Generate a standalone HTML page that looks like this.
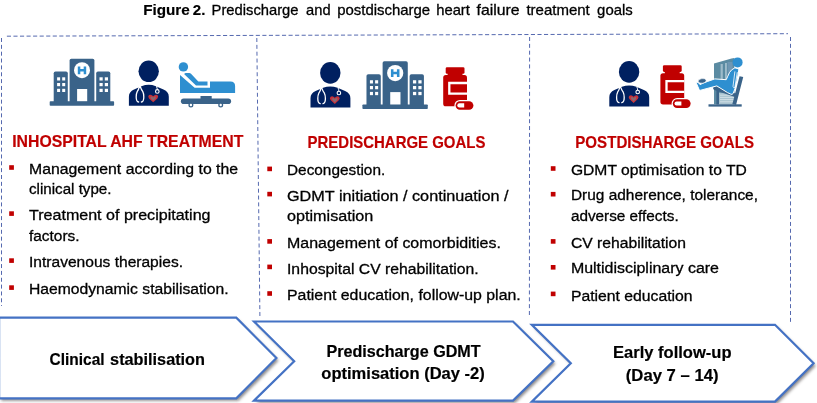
<!DOCTYPE html>
<html><head><meta charset="utf-8"><title>Figure 2</title>
<style>
html,body{margin:0;padding:0;background:#fff;}
body{width:817px;height:403px;overflow:hidden;position:relative;font-family:"Liberation Sans",sans-serif;}
svg{position:absolute;left:0;top:0;will-change:transform;}
text{font-family:"Liberation Sans",sans-serif;}
</style></head><body>
<svg width="817" height="403" viewBox="0 0 817 403">
<defs>
<filter id="sh" x="-10%" y="-20%" width="120%" height="150%"><feGaussianBlur stdDeviation="1.7"/></filter>
<g id="hosp">
<rect x="49.7" y="101.2" width="64.4" height="4.5" rx="0.8" fill="#3A6389"/>
<path d="M69.6,102 V60.4 Q69.6,58.7 71.3,58.7 H92.7 Q94.4,58.7 94.4,60.4 V102 Z" fill="#3A6389"/>
<path d="M53.7,102 V73.2 Q53.7,71.4 55.5,71.4 H66 Q67.8,71.4 67.8,73.2 V102 Z" fill="#3A6389"/>
<path d="M96.2,102 V73.2 Q96.2,71.4 98,71.4 H108.5 Q110.3,71.4 110.3,73.2 V102 Z" fill="#3A6389"/>
<circle cx="82" cy="70.2" r="8" fill="#fff"/>
<path d="M77.8,66.4 h2.5 v2.5 h3.4 v-2.5 h2.5 v7.8 h-2.5 v-2.7 h-3.4 v2.7 h-2.5 Z" fill="#2E8FD0"/>
<rect x="77.1" y="89" width="10.1" height="12.2" fill="#fff"/>
<g fill="#fff">
<rect x="57.1" y="77.3" width="3" height="3.2"/><rect x="62.2" y="77.3" width="3" height="3.2"/>
<rect x="57.1" y="83" width="3" height="3.2"/><rect x="62.2" y="83" width="3" height="3.2"/>
<rect x="57.1" y="88.8" width="3" height="3.2"/><rect x="62.2" y="88.8" width="3" height="3.2"/>
<rect x="99.5" y="77.3" width="3.2" height="3.2"/><rect x="104.8" y="77.3" width="3.2" height="3.2"/>
<rect x="99.5" y="83" width="3.2" height="3.2"/><rect x="104.8" y="83" width="3.2" height="3.2"/>
<rect x="99.5" y="88.8" width="3.2" height="3.2"/><rect x="104.8" y="88.8" width="3.2" height="3.2"/>
</g>
</g>
<g id="doc">
<ellipse cx="148.7" cy="71.1" rx="10.2" ry="10.8" fill="#002060"/>
<path d="M128.9,105.6 V96.5 Q128.9,91.5 134,89.3 L141.5,86 Q148.7,83.2 155.9,86 L163.5,89.3 Q168.8,91.5 168.8,96.5 V105.6 Z" fill="#002060"/>
<path d="M139.4,86.3 Q138.6,89.6 137.2,91.4 Q136.2,93.2 136.2,96.8 Q136.2,101.6 138.6,101.8 M140.2,86.3 Q141.4,89.6 142.8,91.4 Q143.8,93.2 143.8,96.8 Q143.8,101.6 141.4,101.8" fill="none" stroke="#fff" stroke-width="1.3" stroke-linecap="round"/>
<path d="M156.4,86 Q157.3,88 157.3,89.4" fill="none" stroke="#fff" stroke-width="1"/>
<circle cx="157.3" cy="91.2" r="1.8" fill="none" stroke="#fff" stroke-width="1.1"/>
<path d="M153.2,102.1 L149,98.3 Q147.5,96.3 149,94.9 Q151.2,93.7 153.2,96 Q155.2,93.7 157.4,94.9 Q158.9,96.3 157.4,98.3 Z" fill="#C8323A"/>
<path d="M153.2,100.6 L150.8,98.2 Q150.1,97 151,96.3 Q152.2,95.9 153.2,97.5 Q154.2,95.9 155.4,96.3 Q156.3,97 155.6,98.2 Z" fill="#8A6A72"/>
</g>
<g id="bed">
<circle cx="183.4" cy="66.9" r="4.7" fill="#2E8FD0"/>
<path d="M180,75.1 L194.6,87.8 H210 V81.4 H230.5 Q235.1,81.4 235.1,86 V93 H180 Z" fill="#2E8FD0"/>
<path d="M184.3,74.2 Q184.3,72.9 186,72.9 H189.2 Q190.3,72.9 191,73.8 L198.3,81.4 H207.5 V85.5 H196 Z" fill="#2E8FD0"/>
<rect x="180.9" y="98.5" width="50.2" height="5.6" rx="2.8" fill="#3A6389"/>
<rect x="200.5" y="96" width="11.2" height="3" fill="#3A6389"/>
<circle cx="190.9" cy="105" r="2.5" fill="#3A6389"/><circle cx="190.9" cy="105" r="1.2" fill="#fff"/>
<circle cx="220.7" cy="105" r="2.5" fill="#3A6389"/><circle cx="220.7" cy="105" r="1.2" fill="#fff"/>
</g>
<g id="pill">
<rect x="445.7" y="67.2" width="18.8" height="6.6" rx="1.3" fill="#C00000"/>
<rect x="447.6" y="73" width="14.9" height="3.4" fill="#C00000"/>
<rect x="443.2" y="75.1" width="23.8" height="31.2" rx="2.6" fill="#C00000"/>
<path d="M467.2,83 H449.3 V93.7 H467.2" fill="none" stroke="#fff" stroke-width="2.3"/>
<rect x="454.4" y="100" width="20.1" height="10.9" rx="5.45" fill="#fff"/>
<rect x="455.6" y="101.2" width="17.8" height="8.6" rx="4.3" fill="#C00000"/>
<path d="M464.2,103.3 H459.4 A2.1,2.1 0 0 0 459.4,107.5 H464.2 Z" fill="#fff"/>
</g>
<g id="chair">
<path d="M714,63.6 L731.5,58.4 L734.4,58 L734.4,104.3 L714,104.3 Z" fill="#5B8BA2"/>
<rect x="720.6" y="64" width="2.2" height="27" fill="#9DBBCA"/><rect x="725" y="63" width="1.9" height="27" fill="#9DBBCA"/>
<rect x="727.6" y="62" width="5" height="30" fill="#6F97B3"/>
<rect x="718.8" y="92.8" width="15.4" height="11.5" fill="#A9C3CF"/>
<g stroke="#E4EDF1" stroke-width="0.7"><line x1="720" y1="95.2" x2="734" y2="95.2"/><line x1="720" y1="97.4" x2="734" y2="97.4"/><line x1="720" y1="99.6" x2="734" y2="99.6"/><line x1="720" y1="101.8" x2="734" y2="101.8"/></g>
<rect x="716.4" y="89" width="2.6" height="15.5" fill="#3A6389"/>
<rect x="708.5" y="104.3" width="33.2" height="2.3" fill="#3A6389"/>
<path d="M741.4,76.6 L735.3,100.4 L734.2,104.6" stroke="#3A6389" stroke-width="3.8" fill="none"/>
<path d="M714.9,88.2 L735.6,95.4" stroke="#3A6389" stroke-width="3.6" fill="none" stroke-linecap="round"/>
<path d="M738.9,69 L738.2,74.1 L736.9,80.8 L734.9,88.9 L733.1,93.5 Q732.2,94.8 730.9,94.2 L727.5,92.6 L716.8,85.9 L700.7,90.2 Q699.5,90.4 699.1,89.5 L696.4,83.2 Q696.6,82 698,82.2 L700,84.6 L704,82.8 L707.4,81.5 L714.8,78.9 L726.2,79.7 L727.5,76.8 L729.5,72.5 Q731,69.6 734.9,67.8 Z" fill="#2E8FD0" stroke="#fff" stroke-width="1" stroke-linejoin="round"/>
<path d="M734.9,71.4 L733,86.4 Q733.4,88.4 734.9,87.4 L737.3,72.2" stroke="#fff" stroke-width="0.8" fill="none" stroke-linejoin="round"/>
<ellipse cx="702.2" cy="80.9" rx="4" ry="2.3" fill="#3A6389" stroke="#fff" stroke-width="0.6" transform="rotate(-8 702.2 80.9)"/>
<circle cx="737.6" cy="62.4" r="5" fill="#2E8FD0"/>
</g>
</defs>
<g stroke-width="0.9" fill="none" stroke="#4258A6">
<line x1="6.9" y1="36.2" x2="788" y2="33.7" stroke-dasharray="4.1 2.45"/>
<g stroke-dasharray="4 2.85">
<line x1="1.5" y1="38" x2="1.5" y2="306"/>
<line x1="256.8" y1="38" x2="259.9" y2="317"/>
<line x1="529.6" y1="37" x2="529.4" y2="317.6"/>
<line x1="790.5" y1="37" x2="790.5" y2="324"/>
</g></g>
<path d="M-0.9,317.7 L236.3,317.7 L276.4,358 L236.3,398.3 L-0.9,398.3 Z" transform="translate(2.1,2.5)" fill="#4a4444" opacity="0.62" filter="url(#sh)"/>
<path d="M254,321.5 L513,321.5 L553.3,361.2 L513,400.6 L254,400.6 L294.2,361.2 Z" transform="translate(2.1,2.5)" fill="#4a4444" opacity="0.62" filter="url(#sh)"/>
<path d="M531.8,324.8 L775,324.8 L813.6,363.3 L775,401.6 L531.8,401.6 L570.8,363.3 Z" transform="translate(2.1,2.5)" fill="#4a4444" opacity="0.62" filter="url(#sh)"/>
<path d="M-0.9,317.7 L236.3,317.7 L276.4,358 L236.3,398.3 L-0.9,398.3 Z" fill="#fff" stroke="#4472C4" stroke-width="2.2" stroke-linejoin="miter"/>
<path d="M254,321.5 L513,321.5 L553.3,361.2 L513,400.6 L254,400.6 L294.2,361.2 Z" fill="#fff" stroke="#4472C4" stroke-width="2.2" stroke-linejoin="miter"/>
<path d="M531.8,324.8 L775,324.8 L813.6,363.3 L775,401.6 L531.8,401.6 L570.8,363.3 Z" fill="#fff" stroke="#4472C4" stroke-width="2.2" stroke-linejoin="miter"/>
<use href="#hosp" x="0" y="0"/>
<use href="#doc" x="0" y="0.2"/>
<use href="#bed"/>
<use href="#doc" x="181.6" y="1.8"/>
<use href="#hosp" transform="translate(313.2 3) translate(82 82) scale(1.015) translate(-82 -82)"/>
<use href="#pill"/>
<use href="#doc" x="480.4" y="0.8"/>
<use href="#pill" x="217.2" y="-1.9"/>
<use href="#chair"/>
<rect x="9.2" y="165.2" width="4.7" height="4.6" fill="#C00000"/>
<rect x="9.2" y="211.3" width="4.7" height="4.6" fill="#C00000"/>
<rect x="9.2" y="258.3" width="4.7" height="4.6" fill="#C00000"/>
<rect x="9.2" y="285.3" width="4.7" height="4.6" fill="#C00000"/>
<rect x="267.3" y="166.6" width="4.7" height="4.6" fill="#C00000"/>
<rect x="267.3" y="191.8" width="4.7" height="4.6" fill="#C00000"/>
<rect x="267.3" y="239.1" width="4.7" height="4.6" fill="#C00000"/>
<rect x="267.3" y="264.6" width="4.7" height="4.6" fill="#C00000"/>
<rect x="267.3" y="291.2" width="4.7" height="4.6" fill="#C00000"/>
<rect x="550.8" y="166.2" width="4.7" height="4.6" fill="#C00000"/>
<rect x="550.8" y="191.9" width="4.7" height="4.6" fill="#C00000"/>
<rect x="550.8" y="239.1" width="4.7" height="4.6" fill="#C00000"/>
<rect x="550.8" y="265.0" width="4.7" height="4.6" fill="#C00000"/>
<rect x="550.8" y="291.6" width="4.7" height="4.6" fill="#C00000"/>
<text x="143.2" y="15.2" font-size="15" font-weight="bold" fill="#000" stroke="#000" stroke-width="0.18" textLength="46.6" lengthAdjust="spacingAndGlyphs">Figure</text>
<text x="192.8" y="15.2" font-size="15" font-weight="bold" fill="#000" stroke="#000" stroke-width="0.18" textLength="12.5" lengthAdjust="spacingAndGlyphs">2.</text>
<text x="211.6" y="15.2" font-size="15" font-weight="normal" fill="#000" stroke="#000" stroke-width="0.3" textLength="86.9" lengthAdjust="spacingAndGlyphs">Predischarge</text>
<text x="306.1" y="15.2" font-size="15" font-weight="normal" fill="#000" stroke="#000" stroke-width="0.3" textLength="24.5" lengthAdjust="spacingAndGlyphs">and</text>
<text x="337.2" y="15.2" font-size="15" font-weight="normal" fill="#000" stroke="#000" stroke-width="0.3" textLength="93.0" lengthAdjust="spacingAndGlyphs">postdischarge</text>
<text x="436.2" y="15.2" font-size="15" font-weight="normal" fill="#000" stroke="#000" stroke-width="0.3" textLength="33.7" lengthAdjust="spacingAndGlyphs">heart</text>
<text x="476.5" y="15.2" font-size="15" font-weight="normal" fill="#000" stroke="#000" stroke-width="0.3" textLength="43.0" lengthAdjust="spacingAndGlyphs">failure</text>
<text x="526.4" y="15.2" font-size="15" font-weight="normal" fill="#000" stroke="#000" stroke-width="0.3" textLength="63.4" lengthAdjust="spacingAndGlyphs">treatment</text>
<text x="597.1" y="15.2" font-size="15" font-weight="normal" fill="#000" stroke="#000" stroke-width="0.3" textLength="35.7" lengthAdjust="spacingAndGlyphs">goals</text>
<text x="12.2" y="147.3" font-size="16.9" font-weight="bold" fill="#C00000" stroke="#C00000" stroke-width="0.18" textLength="231.1" lengthAdjust="spacingAndGlyphs">INHOSPITAL AHF TREATMENT</text>
<text x="307.6" y="147.9" font-size="16.9" font-weight="bold" fill="#C00000" stroke="#C00000" stroke-width="0.18" textLength="177.8" lengthAdjust="spacingAndGlyphs">PREDISCHARGE GOALS</text>
<text x="575.3" y="148.3" font-size="16.9" font-weight="bold" fill="#C00000" stroke="#C00000" stroke-width="0.18" textLength="178.7" lengthAdjust="spacingAndGlyphs">POSTDISHARGE GOALS</text>
<text x="29.0" y="174.4" font-size="15.1" font-weight="normal" fill="#000" stroke="#000" stroke-width="0.3" textLength="209.1" lengthAdjust="spacingAndGlyphs">Management according to the</text>
<text x="29.0" y="194.0" font-size="15.1" font-weight="normal" fill="#000" stroke="#000" stroke-width="0.3" textLength="82.5" lengthAdjust="spacingAndGlyphs">clinical type.</text>
<text x="29.0" y="219.6" font-size="15.1" font-weight="normal" fill="#000" stroke="#000" stroke-width="0.3" textLength="181.5" lengthAdjust="spacingAndGlyphs">Treatment of precipitating</text>
<text x="29.0" y="241.4" font-size="15.1" font-weight="normal" fill="#000" stroke="#000" stroke-width="0.3" textLength="50.6" lengthAdjust="spacingAndGlyphs">factors.</text>
<text x="29.0" y="266.6" font-size="15.1" font-weight="normal" fill="#000" stroke="#000" stroke-width="0.3" textLength="154.0" lengthAdjust="spacingAndGlyphs">Intravenous therapies.</text>
<text x="29.0" y="293.9" font-size="15.1" font-weight="normal" fill="#000" stroke="#000" stroke-width="0.3" textLength="199.6" lengthAdjust="spacingAndGlyphs">Haemodynamic stabilisation.</text>
<text x="287.0" y="174.7" font-size="15.1" font-weight="normal" fill="#000" stroke="#000" stroke-width="0.3" textLength="98.2" lengthAdjust="spacingAndGlyphs">Decongestion.</text>
<text x="287.0" y="200.6" font-size="15.1" font-weight="normal" fill="#000" stroke="#000" stroke-width="0.3" textLength="221.5" lengthAdjust="spacingAndGlyphs">GDMT initiation / continuation /</text>
<text x="287.0" y="221.3" font-size="15.1" font-weight="normal" fill="#000" stroke="#000" stroke-width="0.3" textLength="86.3" lengthAdjust="spacingAndGlyphs">optimisation</text>
<text x="287.0" y="248.0" font-size="15.1" font-weight="normal" fill="#000" stroke="#000" stroke-width="0.3" textLength="213.9" lengthAdjust="spacingAndGlyphs">Management of comorbidities.</text>
<text x="287.0" y="273.5" font-size="15.1" font-weight="normal" fill="#000" stroke="#000" stroke-width="0.3" textLength="191.7" lengthAdjust="spacingAndGlyphs">Inhospital CV rehabilitation.</text>
<text x="287.0" y="300.1" font-size="15.1" font-weight="normal" fill="#000" stroke="#000" stroke-width="0.3" textLength="233.7" lengthAdjust="spacingAndGlyphs">Patient education, follow-up plan.</text>
<text x="570.9" y="174.7" font-size="15.1" font-weight="normal" fill="#000" stroke="#000" stroke-width="0.3" textLength="175.9" lengthAdjust="spacingAndGlyphs">GDMT optimisation to TD</text>
<text x="570.9" y="200.1" font-size="15.1" font-weight="normal" fill="#000" stroke="#000" stroke-width="0.3" textLength="187.1" lengthAdjust="spacingAndGlyphs">Drug adherence, tolerance,</text>
<text x="570.9" y="221.3" font-size="15.1" font-weight="normal" fill="#000" stroke="#000" stroke-width="0.3" textLength="107.8" lengthAdjust="spacingAndGlyphs">adverse effects.</text>
<text x="570.9" y="248.0" font-size="15.1" font-weight="normal" fill="#000" stroke="#000" stroke-width="0.3" textLength="115.1" lengthAdjust="spacingAndGlyphs">CV rehabilitation</text>
<text x="570.9" y="273.4" font-size="15.1" font-weight="normal" fill="#000" stroke="#000" stroke-width="0.3" textLength="148.1" lengthAdjust="spacingAndGlyphs">Multidisciplinary care</text>
<text x="570.9" y="300.5" font-size="15.1" font-weight="normal" fill="#000" stroke="#000" stroke-width="0.3" textLength="121.7" lengthAdjust="spacingAndGlyphs">Patient education</text>
<text x="49.6" y="365.1" font-size="15.7" font-weight="bold" fill="#000" stroke="#000" stroke-width="0.18" textLength="55.0" lengthAdjust="spacingAndGlyphs">Clinical</text>
<text x="110.1" y="365.1" font-size="15.7" font-weight="bold" fill="#000" stroke="#000" stroke-width="0.18" textLength="94.9" lengthAdjust="spacingAndGlyphs">stabilisation</text>
<text x="326.4" y="357.2" font-size="15.7" font-weight="bold" fill="#000" stroke="#000" stroke-width="0.18" textLength="154.3" lengthAdjust="spacingAndGlyphs">Predischarge GDMT</text>
<text x="321.3" y="378.5" font-size="15.7" font-weight="bold" fill="#000" stroke="#000" stroke-width="0.18" textLength="163.5" lengthAdjust="spacingAndGlyphs">optimisation (Day -2)</text>
<text x="613.0" y="358.2" font-size="15.7" font-weight="bold" fill="#000" stroke="#000" stroke-width="0.18" textLength="118.5" lengthAdjust="spacingAndGlyphs">Early follow-up</text>
<text x="625.8" y="380.7" font-size="15.7" font-weight="bold" fill="#000" stroke="#000" stroke-width="0.18" textLength="92.7" lengthAdjust="spacingAndGlyphs">(Day 7 – 14)</text>
</svg>
</body></html>
